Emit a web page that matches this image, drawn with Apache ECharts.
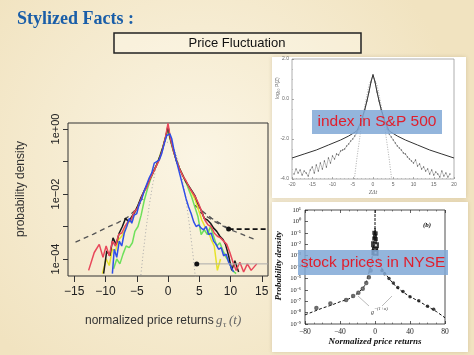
<!DOCTYPE html>
<html><head><meta charset="utf-8">
<script src="https://cdn.jsdelivr.net/npm/echarts@6/dist/echarts.min.js"></script>
<style>html,body{margin:0;padding:0;background:#f6ecd2}#c{width:474px;height:355px}</style>
</head><body><div id="c"></div>
<script>
// ---- main chart (log10 density vs normalized return) ----
const mainXTicks = [-15,-10,-5,0,5,10,15];
const mainYTicks = [-4,-3,-2,-1,0];
const mainYLabels = [-4,-2,0];
const redPts = [[-12.7,-4.35],[-11.8,-3.8],[-11.0,-3.55],[-10.4,-3.95],[-9.9,-3.6],[-9.4,-3.9],[-8.9,-3.45],[-8.4,-3.6],[-7.9,-3.25],[-7.4,-3.2],[-6.9,-3.0],[-6.4,-2.85],[-5.9,-2.8],[-5.4,-2.55],[-4.9,-2.45],[-4.4,-2.2],[-3.9,-1.95],[-3.4,-1.8],[-2.9,-1.55],[-2.4,-1.35],[-1.9,-1.15],[-1.4,-0.95],[-0.9,-0.65],[-0.4,-0.25],[0,0.17],[0.4,-0.3],[0.9,-0.7],[1.4,-1.0],[1.9,-1.25],[2.4,-1.45],[2.9,-1.6],[3.4,-1.8],[3.9,-1.95],[4.4,-2.1],[4.9,-2.3],[5.4,-2.55],[5.9,-2.8],[6.4,-2.95],[6.9,-3.0],[7.4,-3.2],[7.9,-3.3],[8.4,-3.35],[8.9,-3.45],[9.4,-3.55],[9.9,-3.8],[10.4,-4.1],[10.9,-4.35],[11.5,-4.1],[12.1,-4.4],[12.7,-4.15],[13.3,-4.35],[14.2,-4.15]];
const blackPts = [[-10.3,-4.45],[-9.8,-3.75],[-9.3,-3.9],[-8.8,-3.35],[-8.3,-3.55],[-7.8,-3.2],[-7.3,-3.0],[-6.8,-2.75],[-6.3,-2.85],[-5.8,-2.7],[-5.3,-2.55],[-4.8,-2.35],[-4.3,-2.1],[-3.8,-1.9],[-3.3,-1.7],[-2.8,-1.5],[-2.3,-1.3],[-1.8,-1.1],[-1.3,-0.85],[-0.8,-0.55],[-0.3,-0.2],[0,0.1],[0.3,-0.25],[0.8,-0.6],[1.3,-0.95],[1.8,-1.2],[2.3,-1.4],[2.8,-1.6],[3.3,-1.75],[3.8,-1.9],[4.3,-2.05],[4.8,-2.3],[5.3,-2.5],[5.8,-2.75],[6.3,-2.8],[6.8,-2.9],[7.3,-3.05],[7.8,-3.15],[8.3,-3.3],[8.8,-3.4],[9.2,-3.55],[9.7,-3.9],[10.2,-4.35],[10.7,-4.05],[11.3,-4.4]];
const greenPts = [[-8.7,-4.3],[-8.2,-4.0],[-7.7,-4.15],[-7.2,-3.85],[-6.7,-3.6],[-6.2,-3.65],[-5.7,-3.5],[-5.3,-3.15],[-4.8,-3.0],[-4.3,-2.65],[-3.8,-2.2],[-3.3,-1.85],[-2.8,-1.55],[-2.3,-1.3],[-1.8,-1.1],[-1.3,-0.85],[-0.8,-0.55],[-0.3,-0.2],[0,0.05],[0.3,-0.3],[0.8,-0.65],[1.3,-0.95],[1.8,-1.2],[2.3,-1.4],[2.8,-1.6],[3.3,-1.85],[3.8,-2.1],[4.3,-2.4],[4.8,-2.7],[5.3,-3.25],[5.8,-3.1],[6.3,-3.25],[6.8,-3.0],[7.3,-3.3],[7.8,-3.6],[8.3,-3.5],[8.8,-3.75],[9.3,-3.95],[9.8,-4.1],[10.3,-4.35],[10.9,-4.45]];
const yellowPts = [[-10.5,-4.45],[-9.9,-4.0],[-9.4,-4.2],[-8.9,-3.7],[-8.4,-3.75],[-7.9,-3.4],[-7.4,-3.3],[-6.9,-3.1],[-6.4,-2.9],[-5.9,-2.8],[-5.4,-2.6],[-4.9,-2.4],[-4.4,-2.2],[-3.9,-1.95],[-3.4,-1.75],[-2.9,-1.55],[-2.4,-1.35],[-1.9,-1.12],[-1.4,-0.9],[-0.9,-0.6],[-0.4,-0.25],[0,0.05],[0.4,-0.3],[0.9,-0.7],[1.4,-1.0],[1.9,-1.25],[2.4,-1.45],[2.9,-1.65],[3.4,-1.8],[3.9,-2.0],[4.4,-2.2],[4.9,-2.5],[5.4,-2.8],[5.9,-3.0],[6.4,-3.1],[6.9,-3.4],[7.4,-3.6],[7.9,-4.35],[8.4,-4.0]];
const bluePts = [[-8.9,-4.45],[-8.6,-3.7],[-8.2,-3.95],[-7.8,-3.45],[-7.4,-3.6],[-7.0,-3.2],[-6.6,-3.0],[-6.2,-2.75],[-5.8,-2.9],[-5.4,-2.65],[-5.0,-2.6],[-4.6,-2.3],[-4.2,-2.15],[-3.8,-1.9],[-3.4,-1.7],[-3.0,-1.5],[-2.6,-1.35],[-2.2,-1.05],[-1.8,-1.0],[-1.4,-0.95],[-1.0,-0.75],[-0.6,-0.45],[-0.2,-0.2],[0.3,-0.15],[0.6,-0.3],[0.9,-0.6],[1.3,-0.95],[1.7,-1.25],[2.1,-1.55],[2.5,-1.85],[2.9,-2.15],[3.3,-2.4],[3.7,-2.6],[4.1,-2.85],[4.5,-3.0],[4.9,-2.95],[5.3,-3.05],[5.7,-3.1],[6.1,-3.0],[6.5,-3.25],[6.9,-3.2],[7.3,-3.45],[7.7,-3.55],[8.1,-3.7],[8.5,-3.65],[8.9,-3.9],[9.3,-3.85],[9.7,-4.1],[10.1,-4.25],[10.5,-4.4]];
const tailLeftPts = [[-14.8,-3.48],[-12,-3.24],[-10,-3.05],[-8,-2.88],[-6.5,-2.72],[-5,-2.45],[-4,-2.15]];
const tailRightAPts = [[4.3,-2.35],[7,-2.75],[10,-3.1],[14.2,-3.42]];
const tailRightBPts = [[5,-2.55],[7.5,-2.85],[9.7,-3.08]];
const gaussPts = [[-4.4,-4.6],[-4,-3.87],[-3.5,-3.06],[-3,-2.35],[-2.5,-1.76],[-2,-1.27],[-1.5,-0.89],[-1,-0.62],[-0.5,-0.45],[0,-0.4],[0.5,-0.45],[1,-0.62],[1.5,-0.89],[2,-1.27],[2.5,-1.76],[3,-2.35],[3.5,-3.06],[4,-3.87],[4.4,-4.6]];
const pointerA = [[9.7,-3.08],[16,-3.08]];
const pointerB = [[4.6,-4.15],[16,-4.15]];

// ---- top inset: S&P 500 index ----
const levyPts = [[-20,-2.95],[-17,-2.75],[-14,-2.55],[-11,-2.3],[-8,-2.05],[-6,-1.85],[-4,-1.6],[-3,-1.15],[-2,-0.5],[-1.5,-0.1],[-1,0.35],[-0.5,0.85],[0,1.22],[0.5,0.85],[1,0.35],[1.5,-0.1],[2,-0.5],[3,-1.15],[4,-1.6],[6,-1.85],[8,-2.05],[11,-2.3],[14,-2.55],[17,-2.75],[20,-2.95]];
const spDataPts = [[-19.5,-3.75],[-19,-3.5],[-18.5,-3.7],[-18,-3.55],[-17.5,-3.8],[-17,-3.6],[-16.5,-3.7],[-16,-3.85],[-15.5,-3.55],[-15,-3.4],[-14.5,-3.7],[-14,-3.3],[-13.5,-3.6],[-13,-3.2],[-12.5,-3.5],[-12,-3.1],[-11.5,-3.4],[-11,-2.95],[-10.5,-3.2],[-10,-2.85],[-9.5,-3.0],[-9,-2.75],[-8.5,-2.8],[-8,-2.6],[-7.5,-2.55],[-7,-2.5],[-6.5,-2.35],[-6,-2.25],[-5.5,-2.1],[-5,-2.0],[-4.5,-1.85],[-4,-1.7],[-3.5,-1.5],[-3,-1.25],[-2.5,-0.95],[-2,-0.55],[-1.5,-0.1],[-1,0.35],[-0.5,0.85],[0,1.2],[0.5,0.85],[1,0.35],[1.5,-0.1],[2,-0.55],[2.5,-0.95],[3,-1.25],[3.5,-1.5],[4,-1.75],[4.5,-1.9],[5,-2.05],[5.5,-2.2],[6,-2.35],[6.5,-2.45],[7,-2.55],[7.5,-2.7],[8,-2.75],[8.5,-2.9],[9,-3.0],[9.5,-3.1],[10,-3.2],[10.5,-3.05],[11,-3.35],[11.5,-3.25],[12,-3.5],[12.5,-3.4],[13,-3.6],[13.5,-3.5],[14,-3.75],[14.5,-3.55],[15,-3.8],[15.5,-3.65],[16,-3.75],[16.5,-3.9],[17,-3.6],[17.5,-3.85],[18,-3.7],[18.5,-3.9],[19,-3.75]];
const spGaussPts = [[-4.6,-4],[-4,-3.0],[-3,-1.55],[-2,-0.3],[-1,0.7],[0,1.15],[1,0.7],[2,-0.3],[3,-1.55],[4,-3.0],[4.6,-4]];

// ---- bottom inset: NYSE stocks (log10 density) ----
const nyFitLeft = [[-80,-8.2],[-70,-7.9],[-60,-7.6],[-50,-7.35],[-40,-7.05],[-30,-6.8],[-25,-6.6],[-20,-6.3],[-15,-5.95],[-11,-5.55],[-7.6,-4.7],[-5,-3.9],[-3,-3.0],[-1.5,-1.8],[0,-0.6]];
const nyFitRight = [[0,-0.6],[1.5,-1.8],[3,-3.0],[6,-3.9],[10,-4.4],[13,-4.7],[18,-5.2],[25,-5.8],[32,-6.2],[40,-6.6],[50,-7.0],[60,-7.45],[70,-7.9],[80,-8.45]];
const nyOpenPts = [[-67,-7.6],[-51,-7.2],[-33,-6.9],[-25,-6.55],[-19,-6.25],[-14,-5.9],[-10,-5.4],[-7,-4.9],[-5,-4.3]];
const nyFilledPts = [[8,-4.3],[11,-4.6],[16,-5.0],[21,-5.4],[26,-5.8],[32,-6.15],[40,-6.6],[50,-6.95],[60,-7.45],[67,-7.7]];
const nySquaresFilled = [[-0.8,-1.0],[0.8,-1.05],[0,-1.3],[-0.9,-1.5],[0.9,-1.55]];
const nySquaresOpen = [[-1.1,-2.0],[1.1,-2.1],[0,-2.5],[-0.7,-2.7],[0.7,-2.75]];
const nySpike = [[0,1],[0,-1]];

const SANS = '"Liberation Sans", Arial, sans-serif';
const SERIF = '"Liberation Serif", "Times New Roman", serif';
const minus = v => (v < 0 ? '\u2212' + (-v) : String(v));
const sup = {'0':'\u2070','1':'\u00b9','2':'\u00b2','3':'\u00b3','4':'\u2074','5':'\u2075','6':'\u2076','7':'\u2077','8':'\u2078','9':'\u2079','-':'\u207b'};
const supStr = s => String(s).split('').map(c => sup[c]).join('');

const chart = echarts.init(document.getElementById('c'), null, {renderer: 'canvas'});

function lineS(name, pts, color, width, type, xi, extra) {
  return Object.assign({
    name, type: 'line', data: pts, xAxisIndex: xi, yAxisIndex: xi,
    showSymbol: false, symbol: 'none', silent: true, animation: false,
    lineStyle: {color, width, type: type || 'solid'}, z: 3
  }, extra || {});
}
function pointer(pts, color, width, type) {
  return {
    type: 'line', xAxisIndex: 0, yAxisIndex: 0, silent: true, animation: false, z: 5,
    showSymbol: true, showAllSymbol: true,
    data: [{value: pts[0], symbol: 'circle', symbolSize: 5}, {value: pts[1], symbol: 'none', symbolSize: 0}],
    itemStyle: {color: '#111'}, lineStyle: {color, width, type}
  };
}
const noLine = {show: false, onZero: false};

const option = {
  animation: false,
  grid: [
    {left: 68, top: 123, width: 200, height: 153, show: true, borderColor: '#333', borderWidth: 1, backgroundColor: 'transparent'},
    {left: 292, top: 59, width: 162, height: 120, show: true, borderColor: '#999', borderWidth: 0.8, backgroundColor: 'transparent'},
    {left: 305, top: 210, width: 140, height: 114, show: true, borderColor: '#222', borderWidth: 0.8, backgroundColor: 'transparent'}
  ],
  xAxis: [
    {gridIndex: 0, type: 'value', min: -16, max: 16,
      axisLine: noLine, splitLine: {show: false},
      axisTick: {show: true, length: 6, customValues: mainXTicks, lineStyle: {color: '#333'}},
      axisLabel: {customValues: mainXTicks, formatter: minus, fontSize: 12, color: '#222', fontFamily: SANS, margin: 10}},
    {gridIndex: 1, type: 'value', min: -20, max: 20, interval: 5,
      axisLine: noLine, splitLine: {show: false},
      axisTick: {inside: true, length: 2, lineStyle: {color: '#777', width: 0.6}},
      minorTick: {show: true, splitNumber: 5, length: 1, lineStyle: {color: '#999', width: 0.5}},
      axisLabel: {fontSize: 5, color: '#666', margin: 3, fontFamily: SANS}},
    {gridIndex: 2, type: 'value', min: -80, max: 80, interval: 40,
      axisLine: noLine, splitLine: {show: false},
      axisTick: {inside: true, length: 3, lineStyle: {color: '#222', width: 0.7}},
      minorTick: {show: true, splitNumber: 4, length: 1.5, lineStyle: {color: '#222', width: 0.5}},
      axisLabel: {fontSize: 7.5, color: '#222', margin: 4, fontFamily: SERIF, formatter: minus}},
    {gridIndex: 2, type: 'value', min: -80, max: 80, interval: 40, position: 'top',
      axisLine: noLine, splitLine: {show: false},
      axisTick: {inside: true, length: 3, lineStyle: {color: '#222', width: 0.7}},
      minorTick: {show: true, splitNumber: 4, length: 1.5, lineStyle: {color: '#222', width: 0.5}},
      axisLabel: {show: false}}
  ],
  yAxis: [
    {gridIndex: 0, type: 'value', min: -4.523, max: 0.185,
      axisLine: noLine, splitLine: {show: false},
      axisTick: {show: true, length: 5, customValues: mainYTicks, lineStyle: {color: '#333'}},
      axisLabel: {customValues: mainYLabels, rotate: 90, fontSize: 11, color: '#222', fontFamily: SANS, margin: 7,
        formatter: v => v === 0 ? '1e+00' : '1e\u22120' + (-v)}},
    {gridIndex: 1, type: 'value', min: -4, max: 2, interval: 2,
      axisLine: noLine, splitLine: {show: false},
      axisTick: {inside: true, length: 2, lineStyle: {color: '#777', width: 0.6}},
      minorTick: {show: true, splitNumber: 4, length: 1, lineStyle: {color: '#999', width: 0.5}},
      axisLabel: {fontSize: 5, color: '#666', margin: 3, fontFamily: SANS, formatter: v => v.toFixed(1)}},
    {gridIndex: 2, type: 'value', min: -9, max: 1, interval: 1,
      axisLine: noLine, splitLine: {show: false},
      axisTick: {inside: true, length: 3, lineStyle: {color: '#222', width: 0.7}},
      axisLabel: {fontSize: 6.5, color: '#222', margin: 4, fontFamily: SERIF, formatter: v => '10' + supStr(v)}}
  ],
  series: [
    lineS('gauss', gaussPts, '#a8a8a8', 1, [1, 2.5], 0),
    lineS('tailL', tailLeftPts, '#555', 1.3, [5, 4], 0),
    lineS('tailRA', tailRightAPts, '#555', 1.3, [5, 4], 0),
    lineS('tailRB', tailRightBPts, '#555', 1.3, [5, 4], 0),
    lineS('yellow', yellowPts, '#e6e22a', 1.5, null, 0),
    lineS('green', greenPts, '#6ee05a', 1.5, null, 0),
    lineS('black', blackPts, '#1a1a1a', 1.5, null, 0),
    lineS('red', redPts, '#e8475a', 1.5, null, 0),
    lineS('blue', bluePts, '#2f4fe8', 1.5, null, 0),
    pointer(pointerA, '#111', 1.8, [5, 3]),
    pointer(pointerB, '#aaa', 1, 'solid'),
    // top inset
    lineS('spGauss', spGaussPts, '#999', 0.8, [1, 1.5], 1),
    lineS('spData', spDataPts, '#777', 0.5, null, 1, {showSymbol: true, showAllSymbol: true, symbol: 'circle', symbolSize: 1.3, itemStyle: {color: '#555'}}),
    lineS('levy', levyPts, '#333', 1, null, 1),
    // bottom inset
    lineS('nyL', nyFitLeft, '#111', 1, [3, 2], 2),
    lineS('nyR', nyFitRight, '#111', 1, [3, 2], 2),
    lineS('nySpike', nySpike, '#111', 1, [3, 1], 2),
    {type: 'scatter', data: nyOpenPts, xAxisIndex: 2, yAxisIndex: 2, symbol: 'emptyCircle', symbolSize: 2.5, itemStyle: {color: '#444', borderWidth: 0.6}, silent: true, z: 4},
    {type: 'scatter', data: nyFilledPts, xAxisIndex: 2, yAxisIndex: 2, symbol: 'circle', symbolSize: 3.5, itemStyle: {color: '#111'}, silent: true, z: 4},
    {type: 'scatter', data: nySquaresFilled, xAxisIndex: 2, yAxisIndex: 2, symbol: 'rect', symbolSize: 4, itemStyle: {color: '#111'}, silent: true, z: 4},
    {type: 'scatter', data: nySquaresOpen, xAxisIndex: 2, yAxisIndex: 2, symbol: 'emptyRect', symbolSize: 4, itemStyle: {color: '#111', borderWidth: 0.8}, silent: true, z: 4}
  ],
  graphic: [
    {type: 'rect', z: -100, shape: {x: 0, y: 0, width: 474, height: 355},
      style: {fill: {type: 'radial', x: 0.42, y: 0.45, r: 0.75, colorStops: [{offset: 0, color: '#fbf5e4'}, {offset: 1, color: '#f1e3c0'}]}}},
    {type: 'rect', z: -50, shape: {x: 272, y: 57, width: 194, height: 141},
      style: {fill: '#ffffff', shadowBlur: 4, shadowColor: 'rgba(120,100,60,0.25)'}},
    {type: 'rect', z: -50, shape: {x: 272, y: 202, width: 196, height: 150},
      style: {fill: '#ffffff', shadowBlur: 4, shadowColor: 'rgba(120,100,60,0.25)'}},
    {type: 'text', z: 10, x: 17, y: 19,
      style: {text: 'Stylized Facts :', fill: '#1a5ea8', font: 'bold 18px ' + SERIF, textAlign: 'left', align: 'left', textVerticalAlign: 'middle', verticalAlign: 'middle'}},
    {type: 'rect', z: 10, shape: {x: 114, y: 33, width: 247, height: 20},
      style: {fill: 'rgba(255,252,240,0.35)', stroke: '#222', lineWidth: 1.5}},
    {type: 'text', z: 11, x: 237, y: 43,
      style: {text: 'Price Fluctuation', fill: '#111', font: '13px ' + SANS, textAlign: 'center', align: 'center', textVerticalAlign: 'middle', verticalAlign: 'middle'}},
    {type: 'text', z: 10, x: 21, y: 189, rotation: Math.PI / 2,
      style: {text: 'probability density', fill: '#333', font: '12px ' + SANS, textAlign: 'center', align: 'center', textVerticalAlign: 'middle', verticalAlign: 'middle'}},
    {type: 'text', z: 10, x: 85, y: 321,
      style: {text: 'normalized price returns', fill: '#333', font: '12px ' + SANS, textAlign: 'left', align: 'left', textVerticalAlign: 'middle', verticalAlign: 'middle'}},
    {type: 'text', z: 10, x: 216, y: 321,
      style: {text: 'g', fill: '#666', font: 'italic 13px ' + SERIF, textAlign: 'left', align: 'left', textVerticalAlign: 'middle', verticalAlign: 'middle'}},
    {type: 'text', z: 10, x: 223, y: 325,
      style: {text: '\u03c4', fill: '#666', font: 'italic 9px ' + SERIF, textAlign: 'left', align: 'left', textVerticalAlign: 'middle', verticalAlign: 'middle'}},
    {type: 'text', z: 10, x: 229, y: 321,
      style: {text: '(t)', fill: '#666', font: 'italic 13px ' + SERIF, textAlign: 'left', align: 'left', textVerticalAlign: 'middle', verticalAlign: 'middle'}},
    {type: 'text', z: 10, x: 278, y: 88, rotation: Math.PI / 2,
      style: {text: 'log\u2081\u2080 P(Z)', fill: '#666', font: '5px ' + SANS, textAlign: 'center', align: 'center', textVerticalAlign: 'middle', verticalAlign: 'middle'}},
    {type: 'text', z: 10, x: 373, y: 192,
      style: {text: 'Z\u0394t', fill: '#666', font: 'italic 6px ' + SERIF, textAlign: 'center', align: 'center', textVerticalAlign: 'middle', verticalAlign: 'middle'}},
    {type: 'text', z: 10, x: 279, y: 266, rotation: Math.PI / 2,
      style: {text: 'Probability density', fill: '#111', font: 'italic bold 9px ' + SERIF, textAlign: 'center', align: 'center', textVerticalAlign: 'middle', verticalAlign: 'middle'}},
    {type: 'text', z: 10, x: 375, y: 342,
      style: {text: 'Normalized price returns', fill: '#111', font: 'italic bold 9px ' + SERIF, textAlign: 'center', align: 'center', textVerticalAlign: 'middle', verticalAlign: 'middle'}},
    {type: 'text', z: 10, x: 427, y: 225,
      style: {text: '(b)', fill: '#111', font: 'italic bold 7px ' + SERIF, textAlign: 'center', align: 'center', textVerticalAlign: 'middle', verticalAlign: 'middle'}},
    {type: 'line', z: 10, shape: {x1: 358, y1: 296, x2: 369, y2: 306}, style: {stroke: '#bbb', lineWidth: 1}},
    {type: 'line', z: 10, shape: {x1: 392, y1: 296, x2: 382, y2: 306}, style: {stroke: '#bbb', lineWidth: 1}},
    {type: 'text', z: 10, x: 371, y: 312,
      style: {text: 'g', fill: '#333', font: 'italic 6px ' + SERIF, textAlign: 'left', align: 'left', textVerticalAlign: 'middle', verticalAlign: 'middle'}},
    {type: 'text', z: 10, x: 374, y: 309,
      style: {text: '\u2212(1+\u03b1)', fill: '#333', font: 'italic 4.5px ' + SERIF, textAlign: 'left', align: 'left', textVerticalAlign: 'middle', verticalAlign: 'middle'}},
    {type: 'rect', z: 50, shape: {x: 312, y: 110, width: 130, height: 24},
      style: {fill: 'rgba(128,168,214,0.85)'}},
    {type: 'text', z: 51, x: 377, y: 122,
      style: {text: 'index in S&P 500', fill: '#e01e2c', font: '15.5px ' + SANS, textAlign: 'center', align: 'center', textVerticalAlign: 'middle', verticalAlign: 'middle'}},
    {type: 'rect', z: 50, shape: {x: 298, y: 250, width: 150, height: 25},
      style: {fill: 'rgba(128,168,214,0.85)'}},
    {type: 'text', z: 51, x: 373, y: 262.5,
      style: {text: 'stock prices in NYSE', fill: '#e01e2c', font: '15.5px ' + SANS, textAlign: 'center', align: 'center', textVerticalAlign: 'middle', verticalAlign: 'middle'}}
  ]
};
chart.setOption(option);
</script></body></html>
